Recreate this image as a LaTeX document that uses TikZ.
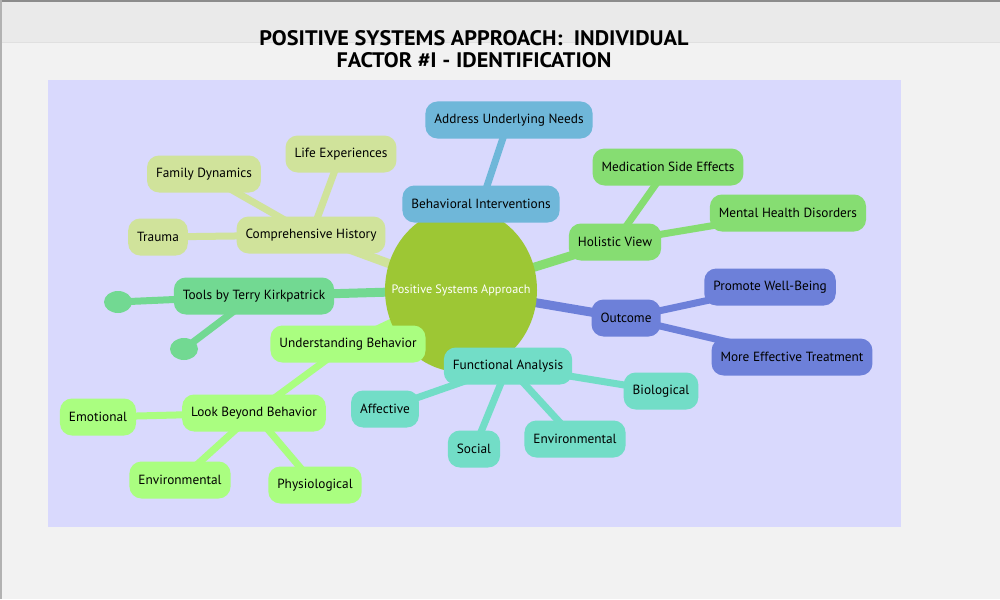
\documentclass[tikz,border=0pt]{standalone}
\usepackage{fontspec}
\setmainfont{PT Sans}
\newfontfamily\titlefont[FakeStretch=1.06]{PT Sans}
\usetikzlibrary{shapes.geometric}

\definecolor{pagegrey}{HTML}{F2F2F2}
\definecolor{bandgrey}{HTML}{EAEAEA}
\definecolor{panelblue}{HTML}{D9D9FD}
\definecolor{rootgreen}{HTML}{9DC734}
\definecolor{needblue}{HTML}{6FB7D9}
\definecolor{histgreen}{HTML}{D0E39B}
\definecolor{toolgreen}{HTML}{72D992}
\definecolor{undergreen}{HTML}{AAFE80}
\definecolor{functeal}{HTML}{72DDC7}
\definecolor{outblue}{HTML}{6D80D9}
\definecolor{holgreen}{HTML}{86DD72}

\pgfdeclarelayer{panel}
\pgfdeclarelayer{links}
\pgfsetlayers{panel,links,main}

\begin{document}
\begin{tikzpicture}[x=1pt, y=-1pt,
  topic/.style={rounded corners=12pt, minimum height=37pt, inner xsep=9pt, font=\fontsize{13.3}{15}\selectfont, text=black},
  root/.style={ellipse, fill=rootgreen, minimum width=152pt, minimum height=164pt, inner xsep=-20pt, inner ysep=0pt, text=white, font=\fontsize{12.2}{14}\selectfont},
  leaf/.style={ellipse, minimum width=28pt, minimum height=22pt, inner sep=0pt},
  link/.style={line width=7pt, draw=#1},
  mainlink/.style={line width=9pt, draw=#1}
]
\useasboundingbox (0,0) rectangle (1000,599);

% page and panel
\begin{pgfonlayer}{panel}
\fill[pagegrey] (0,0) rectangle (1000,599);
\fill[bandgrey] (0,2) rectangle (1000,43);
\draw[black!12, line width=1pt] (0,43) -- (1000,43);
\draw[black!45, line width=1.5pt] (0,1) -- (1000,1);
\draw[black!30, line width=1.5pt] (0.75,0) -- (0.75,599);
\fill[panelblue] (48,80) rectangle (901,527);
\end{pgfonlayer}

\node[align=center, font=\titlefont\bfseries\fontsize{21}{22}\selectfont] (title) at (474,49)
  {POSITIVE SYSTEMS APPROACH:\ \ INDIVIDUAL\\FACTOR \#I - IDENTIFICATION};

\node[root] (psa) at (461,290) {Positive Systems Approach};

% behavioral interventions
\node[topic, fill=needblue] (behav) at (481,204) {Behavioral Interventions};
\node[topic, fill=needblue] (needs) at (509,120) {Address Underlying Needs};

% history
\node[topic, fill=histgreen] (hist) at (311,235) {Comprehensive History};
\node[topic, fill=histgreen] (life) at (341,154) {Life Experiences};
\node[topic, fill=histgreen] (family) at (204,174) {Family Dynamics};
\node[topic, fill=histgreen] (trauma) at (158,237) {Trauma};

% tools
\node[topic, fill=toolgreen] (tools) at (254,296) {Tools by Terry Kirkpatrick};
\node[leaf, fill=toolgreen] (toolA) at (118,302) {};
\node[leaf, fill=toolgreen] (toolB) at (184,349) {};

% understanding behavior
\node[topic, fill=undergreen] (under) at (348,344) {Understanding Behavior};
\node[topic, fill=undergreen] (beyond) at (254,413) {Look Beyond Behavior};
\node[topic, fill=undergreen] (emot) at (98,417) {Emotional};
\node[topic, fill=undergreen] (envA) at (180,480) {Environmental};
\node[topic, fill=undergreen] (physio) at (315,485) {Physiological};

% functional analysis
\node[topic, fill=functeal] (func) at (508,366) {Functional Analysis};
\node[topic, fill=functeal] (affect) at (385,409) {Affective};
\node[topic, fill=functeal] (social) at (474,449) {Social};
\node[topic, fill=functeal] (envB) at (575,439) {Environmental};
\node[topic, fill=functeal] (bio) at (661,391) {Biological};

% outcome
\node[topic, fill=outblue] (outc) at (626,318) {Outcome};
\node[topic, fill=outblue] (promote) at (770,287) {Promote Well-Being};
\node[topic, fill=outblue] (treat) at (792,357) {More Effective Treatment};

% holistic view
\node[topic, fill=holgreen] (holist) at (615,242) {Holistic View};
\node[topic, fill=holgreen] (medic) at (668,167) {Medication Side Effects};
\node[topic, fill=holgreen] (mental) at (788,213) {Mental Health Disorders};

\begin{pgfonlayer}{links}
\draw[mainlink=needblue] (psa) -- (behav);
\draw[link=needblue] (behav.center) -- (needs.center);
\draw[mainlink=histgreen] (psa.center) -- (hist.center);
\draw[link=histgreen] (hist.center) -- (life.center);
\draw[link=histgreen] (hist.center) -- (family.center);
\draw[link=histgreen] (hist.center) -- (trauma.center);
\draw[mainlink=toolgreen] (psa.center) -- (tools.center);
\draw[link=toolgreen] (tools.center) -- (toolA.center);
\draw[link=toolgreen] (tools.center) -- (toolB.center);
\draw[mainlink=undergreen] (psa.center) -- (under.center);
\draw[link=undergreen] (under.center) -- (beyond.center);
\draw[link=undergreen] (beyond.center) -- (emot.center);
\draw[link=undergreen] (beyond.center) -- (envA.center);
\draw[link=undergreen] (beyond.center) -- (physio.center);
\draw[mainlink=functeal] (psa.center) -- (func.center);
\draw[link=functeal] (func.center) -- (affect.center);
\draw[link=functeal] (func.center) -- (social.center);
\draw[link=functeal] (func.center) -- (envB.center);
\draw[link=functeal] (func.center) -- (bio.center);
\draw[mainlink=outblue] (psa.center) -- (outc.center);
\draw[link=outblue] (outc.center) -- (promote.center);
\draw[link=outblue] (outc.center) -- (treat.center);
\draw[mainlink=holgreen] (psa.center) -- (holist.center);
\draw[link=holgreen] (holist.center) -- (medic.center);
\draw[link=holgreen] (holist.center) -- (mental.center);
\end{pgfonlayer}

\end{tikzpicture}
\end{document}
